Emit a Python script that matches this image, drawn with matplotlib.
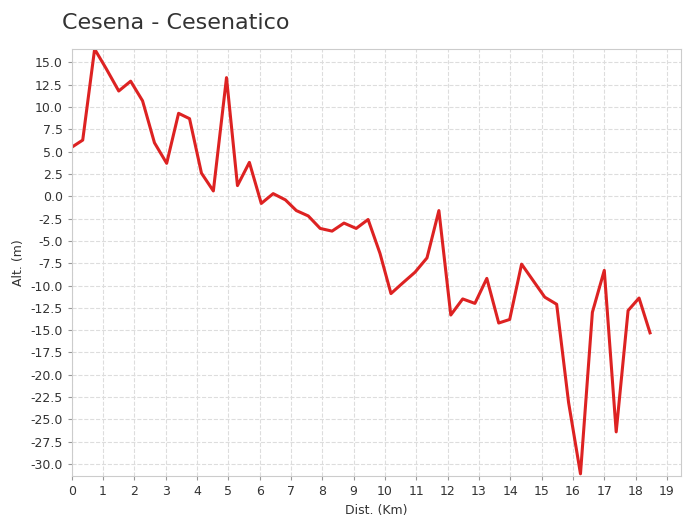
import matplotlib.pyplot as plt
import numpy as np

# distance (km) and altitude (m)
dist = [0.0, 0.35, 0.73, 1.1, 1.5, 1.88, 2.26, 2.64, 3.03, 3.41, 3.76, 4.14, 4.52, 4.94,
        5.29, 5.67, 6.05, 6.43, 6.82, 7.17, 7.55, 7.93, 8.31, 8.69, 9.08, 9.46, 9.84,
        10.19, 10.57, 10.96, 11.34, 11.72, 12.1, 12.48, 12.87, 13.25, 13.63, 13.98,
        14.36, 14.74, 15.1, 15.48, 15.86, 16.24, 16.62, 17.0, 17.38, 17.76, 18.11, 18.46]
alt = [5.5, 6.3, 16.5, 14.3, 11.8, 12.9, 10.7, 6.0, 3.7, 9.3, 8.7, 2.6, 0.6, 13.3,
       1.2, 3.8, -0.8, 0.3, -0.4, -1.6, -2.2, -3.6, -3.9, -3.0, -3.6, -2.6, -6.4,
       -10.9, -9.7, -8.5, -6.9, -1.6, -13.3, -11.5, -12.0, -9.2, -14.2, -13.8,
       -7.6, -9.5, -11.3, -12.1, -23.1, -31.1, -13.0, -8.3, -26.4, -12.8, -11.4, -15.3]

fig = plt.figure(figsize=(6.9, 5.22), dpi=100)
ax = fig.add_axes([0.104, 0.088, 0.883, 0.818])
ax.plot(dist, alt, color="#dd2222", linewidth=2.2)
ax.set_xlim(0, 19.45)
ax.set_ylim(-31.35, 16.5)
ax.set_xticks(range(0, 20))
ax.set_yticks(np.arange(-30, 15.1, 2.5))
ax.yaxis.set_major_formatter(plt.FormatStrFormatter("%.1f"))
ax.grid(True, color="#dddddd", linestyle="--", linewidth=0.8)
ax.set_axisbelow(True)
for s in ax.spines.values():
    s.set_color("#cccccc")
ax.tick_params(labelsize=9, colors="#333333", length=3, color="#999999")
ax.set_xlabel("Dist. (Km)", fontsize=9, color="#333333")
ax.set_ylabel("Alt. (m)", fontsize=9, color="#333333")
fig.text(0.09, 0.945, "Cesena - Cesenatico", fontsize=16, color="#333333")
fig.savefig("out.png", dpi=100)
